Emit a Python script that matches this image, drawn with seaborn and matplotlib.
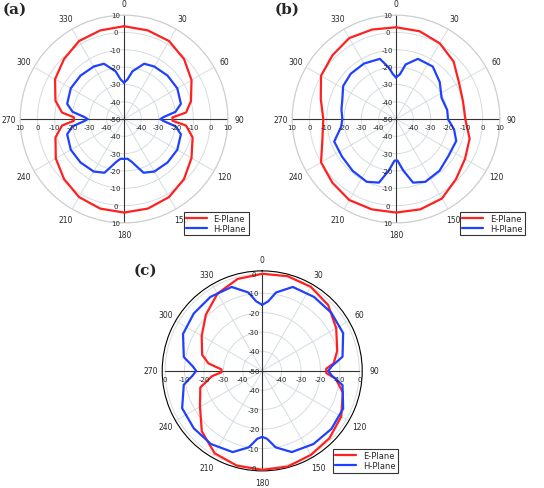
import numpy as np
import matplotlib
matplotlib.use("Agg")
import matplotlib.pyplot as plt
import seaborn as sns

sns.set_style("white")
plt.rcParams['font.family'] = ['DejaVu Sans']

### Data (dB vs angle in degrees) ###
ang_a_e = [0, 15, 30, 45, 60, 75, 84, 88, 92, 96, 105, 120, 135, 150, 165, 180,
           195, 210, 225, 240, 255, 264, 268, 272, 276, 285, 300, 315, 330, 345, 360]
db_a_e = [3.6, 3, 2, -1, -5, -10, -14, -22, -22, -14, -9, -5, -1, 2, 3.5, 4,
          3.5, 2, -1, -4.5, -9, -14, -21, -21, -14, -9, -4, -1, 2, 3, 3.6]
ang_a_h = [0, 5, 10, 20, 30, 45, 60, 75, 82, 87, 90, 93, 98, 105, 120, 135, 150, 160, 170, 175, 180,
           185, 190, 200, 210, 225, 240, 255, 262, 267, 270, 273, 278, 285, 300, 315, 330, 340, 350, 355, 360]
db_a_h = [-29, -27, -22, -16, -15, -14.5, -14.5, -16, -20, -27, -29, -27, -20, -16, -14.5, -14.5, -15, -17, -25, -27, -27,
          -27, -25, -17, -15, -14.5, -14.5, -16, -20, -27, -29, -27, -20, -16, -14.5, -14.5, -15, -16, -22, -27, -29]

ang_b_e = [0, 15, 30, 45, 60, 75, 90, 105, 120, 135, 150, 165, 180,
           195, 210, 225, 240, 255, 270, 285, 300, 315, 330, 345, 360]
db_b_e = [3, 2.5, 0.5, -3, -8, -10, -10, -6, -4, -1, 3, 4, 4,
          4, 4, 2, 0, -6, -8, -5, 0, 2, 4, 3.5, 3]
ang_b_h = [0, 5, 10, 20, 35, 50, 65, 80, 90, 100, 110, 125, 140, 155, 165, 172, 178, 180,
           182, 188, 195, 205, 220, 235, 250, 262, 270, 280, 290, 302, 315, 330, 345, 352, 356, 360]
db_b_h = [-26, -24, -18, -13, -13, -17, -21, -20, -20, -16, -13, -13, -11, -10, -12, -20, -26, -26,
          -26, -20, -12, -10, -11, -12, -12, -18, -19, -18, -17, -14, -13, -13, -14, -20, -24, -26]

ang_c_e = [0, 15, 30, 45, 60, 75, 84, 88, 92, 96, 105, 120, 135, 150, 165, 180,
           195, 210, 225, 240, 255, 264, 268, 272, 278, 285, 300, 315, 330, 345, 360]
db_c_e = [0, 0.5, 0, -2, -6, -10, -13, -17, -17, -12, -7, -3, -1, 0, 1, 1,
          0.5, -1, -6, -13, -17, -24, -29, -29, -22, -18, -14, -9, -4, -1, 0]
ang_c_h = [0, 5, 10, 20, 35, 50, 65, 80, 86, 90, 94, 100, 115, 130, 145, 160, 170, 176, 180,
           184, 190, 200, 215, 230, 245, 260, 266, 270, 274, 280, 295, 310, 325, 340, 350, 355, 360]
db_c_h = [-16, -14, -9, -4, -3.5, -3.5, -4, -8, -14, -16, -14, -8, -4, -3.5, -4, -5.5, -10, -15, -16,
          -15, -10, -5.5, -4, -4, -4.5, -9, -14, -16, -14, -9, -5, -4, -3.5, -4, -9, -14, -16]

panels = [
    ('(a)', [0.037, 0.542, 0.382, 0.425], ang_a_e, db_a_e, ang_a_h, db_a_h, 10, '#cccccc',
     (1.12, -0.08), (0.005, 0.995)),
    ('(b)', [0.537, 0.542, 0.382, 0.425], ang_b_e, db_b_e, ang_b_h, db_b_h, 10, '#cccccc',
     (1.14, -0.08), (0.505, 0.995)),
    ('(c)', [0.298, 0.035, 0.368, 0.409], ang_c_e, db_c_e, ang_c_h, db_c_h, 1.5, 'black',
     (1.2, -0.03), (0.245, 0.46)),
]

fig = plt.figure(figsize=(5.44, 4.89), dpi=100)
for label, pos, ae, de, ah, dh, rmax, edge, lpos, tpos in panels:
    ax = fig.add_axes(pos, projection='polar')
    ax.set_theta_zero_location('N')
    ax.set_theta_direction(-1)
    ax.set_ylim(-50, rmax)
    ax.plot(np.deg2rad(ae), de, color='#ff2020', lw=1.6, label='E-Plane', zorder=3)
    ax.plot(np.deg2rad(ah), dh, color='#2040ff', lw=1.6, label='H-Plane', zorder=3)
    top = 10 if rmax == 10 else 0
    ax.set_yticks(list(range(-40, top + 1, 10)))
    ax.set_yticklabels([])
    ax.set_xticks(np.deg2rad(np.arange(0, 360, 30)))
    ax.set_xticklabels([str(a) for a in range(0, 360, 30)], fontsize=5.5)
    ax.tick_params(axis='x', pad=-2)
    ax.grid(True, color='#d5dde0', lw=0.7)
    ax.spines['polar'].set_color(edge)
    ax.spines['polar'].set_linewidth(0.8)
    # black cross axes with radial labels
    for a in [0, 90, 180, 270]:
        ax.plot([np.deg2rad(a)] * 2, [-50, top], color='#333333', lw=0.8, zorder=2)
        for v in range(-50, top + 1, 10):
            if v == -50 and a != 0:
                continue
            t = np.deg2rad(a)
            off = (-6, 0) if a in (0, 180) else (0, -6)
            ax.annotate(str(v), (t, v), xytext=off, textcoords='offset points',
                        fontsize=5, ha='center', va='center')
    leg = ax.legend(loc='lower right', bbox_to_anchor=lpos, fontsize=6,
                    frameon=True, fancybox=False, edgecolor='black', borderpad=0.3,
                    handlelength=2.5, labelspacing=0.1)
    leg.get_frame().set_linewidth(0.8)
    fig.text(tpos[0], tpos[1], label, fontsize=11, fontweight='bold',
             family='DejaVu Serif', va='top')

fig.savefig('out.png', dpi=100)
